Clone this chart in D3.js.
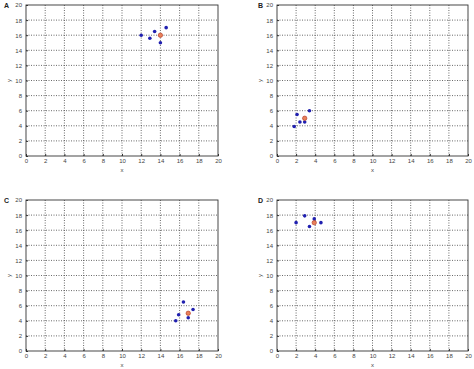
<!DOCTYPE html>
<html><head><meta charset="utf-8">
<script src="https://cdn.jsdelivr.net/npm/d3@7"></script>
<style>body{margin:0;background:#fff}svg{display:block}</style>
</head><body>
<svg id="c" width="474" height="369"></svg>
<script>
const panelLabels = ["A","B","C","D"];
const pointsA = [[12,16],[12.9,15.6],[13.4,16.5],[14,15],[14.6,17]];
const pointsB = [[1.8,3.9],[2.1,5.5],[2.4,4.5],[2.9,4.5],[3.4,6]];
const pointsC = [[15.6,4],[15.9,4.8],[16.4,6.5],[16.9,4.4],[17.4,5.5]];
const pointsD = [[2,17],[2.9,17.9],[3.4,16.5],[3.9,17.5],[4.6,17]];
const centers = [[14,16],[2.9,5],[16.9,5],[3.9,17]];
const tickValues = [0,2,4,6,8,10,12,14,16,18,20];
const allPoints = [pointsA, pointsB, pointsC, pointsD];

const svg = d3.select("#c");
const boxes = [
  {l:26,r:218,t:5,b:156, lx:4, ly:8},
  {l:277,r:468,t:5,b:156, lx:258, ly:8},
  {l:26,r:218,t:200,b:351, lx:4, ly:203},
  {l:277,r:468,t:200,b:351, lx:258, ly:203}
];
const font = "Liberation Sans, Arial, sans-serif";
boxes.forEach((bx,i)=>{
  const x = d3.scaleLinear().domain([0,20]).range([bx.l,bx.r]);
  const y = d3.scaleLinear().domain([0,20]).range([bx.b,bx.t]);
  const g = svg.append("g");
  g.selectAll(".gx").data(tickValues.slice(1,-1)).join("line")
    .attr("x1",d=>x(d)).attr("x2",d=>x(d)).attr("y1",bx.t).attr("y2",bx.b)
    .attr("stroke","#444").attr("stroke-width",0.8).attr("stroke-dasharray","1,1.5");
  g.selectAll(".gy").data(tickValues.slice(1,-1)).join("line")
    .attr("y1",d=>y(d)).attr("y2",d=>y(d)).attr("x1",bx.l).attr("x2",bx.r)
    .attr("stroke","#444").attr("stroke-width",0.8).attr("stroke-dasharray","1,1.5");
  const ax = g.append("g").attr("transform",`translate(0,${bx.b})`)
    .call(d3.axisBottom(x).tickValues(tickValues).tickSize(-2).tickPadding(3));
  const ay = g.append("g").attr("transform",`translate(${bx.l},0)`)
    .call(d3.axisLeft(y).tickValues(tickValues).tickSize(-2).tickPadding(4));
  [ax,ay].forEach(a=>{
    a.select(".domain").remove();
    a.selectAll("line").attr("stroke","#333");
    a.selectAll("text").attr("font-family",font).attr("font-size",6).attr("fill","#444");
  });
  g.append("rect").attr("x",bx.l).attr("y",bx.t).attr("width",bx.r-bx.l).attr("height",bx.b-bx.t)
    .attr("fill","none").attr("stroke","#333").attr("stroke-width",0.9);
  g.append("text").attr("x",(bx.l+bx.r)/2).attr("y",bx.b+16).attr("text-anchor","middle")
    .attr("font-family",font).attr("font-size",6).attr("fill","#444").text("x");
  g.append("text").attr("transform",`translate(${bx.l-15},${(bx.t+bx.b)/2}) rotate(-90)`).attr("text-anchor","middle")
    .attr("font-family",font).attr("font-size",6).attr("fill","#444").text("y");
  g.append("text").attr("x",bx.lx).attr("y",bx.ly).attr("font-family",font)
    .attr("font-size",7).attr("font-weight","bold").attr("fill","#222").text(panelLabels[i]);
  g.selectAll(".p").data(allPoints[i]).join("circle")
    .attr("cx",d=>x(d[0])).attr("cy",d=>y(d[1])).attr("r",1.8).attr("fill","#2020b0");
  g.append("circle").attr("cx",x(centers[i][0])).attr("cy",y(centers[i][1])).attr("r",2.2)
    .attr("fill","#e8825a").attr("stroke","#b03020").attr("stroke-width",0.6);
});
</script>
</body></html>
